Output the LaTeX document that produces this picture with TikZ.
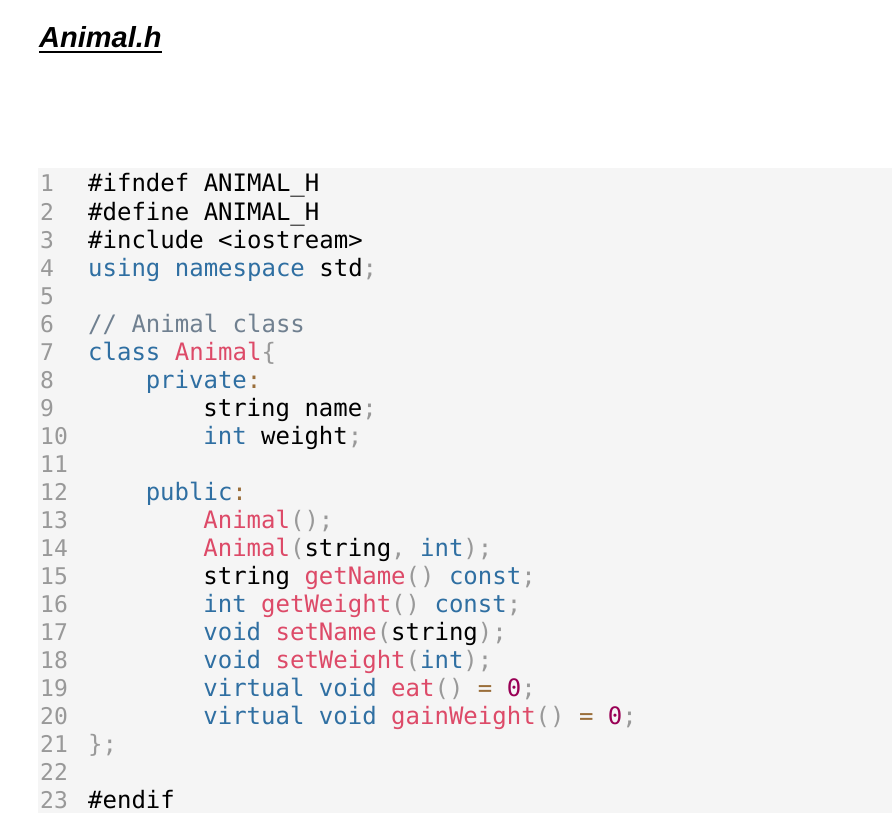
\documentclass[tikz,border=0pt]{standalone}
\usepackage{fontspec}
\setmainfont{Liberation Sans}
\newfontfamily\codefont{DejaVu Sans Mono}
\definecolor{bgc}{HTML}{F5F5F5}
\definecolor{kwc}{HTML}{2F6FA2}
\definecolor{fnc}{HTML}{DD4A68}
\definecolor{puc}{HTML}{999999}
\definecolor{opc}{HTML}{9A6E3A}
\definecolor{nmc}{HTML}{990055}
\definecolor{cmc}{HTML}{708090}
\newcommand\kw[1]{\textcolor{kwc}{#1}}
\newcommand\fn[1]{\textcolor{fnc}{#1}}
\newcommand\pu[1]{\textcolor{puc}{#1}}
\newcommand\op[1]{\textcolor{opc}{#1}}
\newcommand\nm[1]{\textcolor{nmc}{#1}}
\newcommand\cm[1]{\textcolor{cmc}{#1}}
\begin{document}
\begin{tikzpicture}[x=1pt,y=-1pt,
  code/.style={anchor=base west,inner sep=0pt,font=\codefont\fontsize{24}{24}\selectfont,text=black},
  lnum/.style={anchor=base west,inner sep=0pt,font=\codefont\fontsize{23}{23}\selectfont,text=puc}]
\useasboundingbox (0,0) rectangle (892,824);
\fill[bgc] (38,168) rectangle (892,813);
\node[anchor=base west,inner sep=0pt,font=\fontsize{29}{29}\selectfont\bfseries\itshape] (title) at (39,48) {Animal.h};
\draw[line width=1.8pt] ([yshift=-4pt]title.base west) -- ([yshift=-4pt]title.base east);
\foreach \i in {1,...,23}{\node[lnum] (n\i) at (40,{192+28*(\i-1)}) {\i};}
\def\cw{14.4}
\node[code] (l1) at (88,192) {\#ifndef ANIMAL\_H};
\node[code] (l2) at (88,220) {\#define ANIMAL\_H};
\node[code] (l3) at (88,248) {\#include <iostream>};
\node[code] (l4) at (88,276) {\kw{using} \kw{namespace} std\pu{;}};
\node[code] (l6) at (88,332) {\cm{// Animal class}};
\node[code] (l7) at (88,360) {\kw{class} \fn{Animal}\pu{\{}};
\node[code] (l8) at (145.6,388) {\kw{private}\op{:}};
\node[code] (l9) at (203.2,416) {string name\pu{;}};
\node[code] (l10) at (203.2,444) {\kw{int} weight\pu{;}};
\node[code] (l12) at (145.6,500) {\kw{public}\op{:}};
\node[code] (l13) at (203.2,528) {\fn{Animal}\pu{();}};
\node[code] (l14) at (203.2,556) {\fn{Animal}\pu{(}string\pu{,} \kw{int}\pu{);}};
\node[code] (l15) at (203.2,584) {string \fn{getName}\pu{()} \kw{const}\pu{;}};
\node[code] (l16) at (203.2,612) {\kw{int} \fn{getWeight}\pu{()} \kw{const}\pu{;}};
\node[code] (l17) at (203.2,640) {\kw{void} \fn{setName}\pu{(}string\pu{);}};
\node[code] (l18) at (203.2,668) {\kw{void} \fn{setWeight}\pu{(}\kw{int}\pu{);}};
\node[code] (l19) at (203.2,696) {\kw{virtual} \kw{void} \fn{eat}\pu{()} \op{=} \nm{0}\pu{;}};
\node[code] (l20) at (203.2,724) {\kw{virtual} \kw{void} \fn{gainWeight}\pu{()} \op{=} \nm{0}\pu{;}};
\node[code] (l21) at (88,752) {\pu{\};}};
\node[code] (l23) at (88,808) {\#endif};
\end{tikzpicture}
\end{document}
